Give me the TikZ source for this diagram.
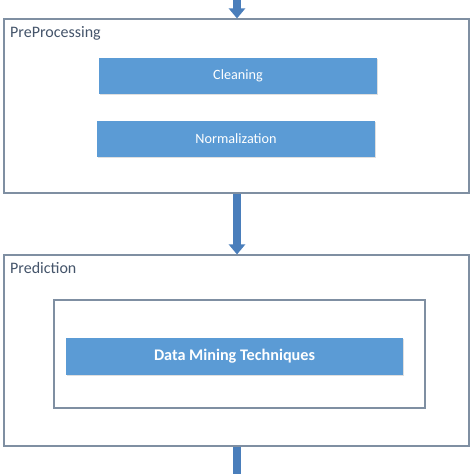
\documentclass[tikz,border=0pt]{standalone}
\usepackage{fontspec}
\setmainfont{Carlito}
\usetikzlibrary{arrows.meta,shadows}
\definecolor{boxblue}{HTML}{5B9BD5}
\definecolor{arrowblue}{HTML}{4A7EBB}
\definecolor{frameline}{HTML}{7F8FA2}
\definecolor{labelcol}{HTML}{44546A}
\tikzset{
  frame/.style={draw=frameline, line width=1.1pt, fill=white, inner sep=0pt,
    drop shadow={opacity=0.15, shadow xshift=1pt, shadow yshift=-1pt}},
  bluebox/.style={fill=boxblue, draw=none, text=white, inner sep=0pt,
    font=\fontsize{14.2pt}{16pt}\selectfont,
    drop shadow={opacity=0.25, shadow xshift=1pt, shadow yshift=-1.5pt}},
  framelabel/.style={text=labelcol, anchor=base west, inner sep=0pt,
    font=\fontsize{16pt}{18pt}\selectfont},
  flow/.style={draw=arrowblue, line width=8pt,
    -{Triangle[width=16pt,length=10pt]}},
}
\begin{document}
\begin{tikzpicture}[x=1pt,y=1pt]
\useasboundingbox (0,0) rectangle (474,474);
% PreProcessing frame
\node[frame, minimum width=465pt, minimum height=174pt] (pre) at (236.5,368) {};
\node[framelabel] (prelbl) at (10,436) {PreProcessing};
\node[bluebox, minimum width=278pt, minimum height=36pt] (clean) at (238,398) {Cleaning};
\node[bluebox, minimum width=278pt, minimum height=36pt] (norm) at (236,335) {Normalization};
% Prediction frame
\node[frame, minimum width=465pt, minimum height=191pt] (pred) at (236.5,123.5) {};
\node[framelabel] (predlbl) at (10,200) {Prediction};
\node[frame, minimum width=371pt, minimum height=108pt] (inner) at (239.5,120) {};
\node[bluebox, minimum width=337pt, minimum height=37pt, font=\fontsize{16.2pt}{18pt}\selectfont\bfseries] (dm) at (234.5,117.5) {Data Mining Techniques};
% arrows
\coordinate (topin) at (237,476);
\coordinate (botout) at (237,-2);
\draw[flow] (topin) -- (pre.north -| topin);
\draw[flow] (pre.south -| topin) -- (pred.north -| topin);
\draw[draw=arrowblue, line width=8pt] (pred.south -| topin) -- (botout);
\end{tikzpicture}
\end{document}
